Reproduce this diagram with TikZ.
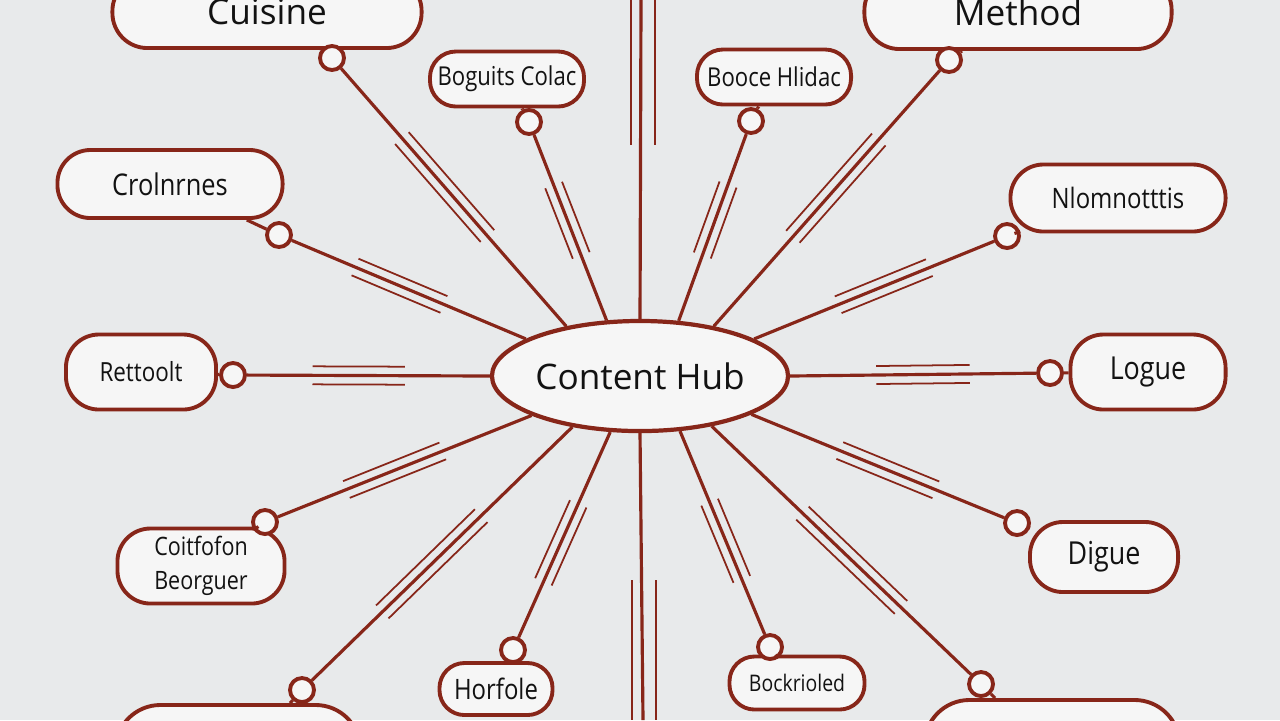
\documentclass[tikz,border=0pt]{standalone}
\usepackage{fontspec}
\setmainfont{Open Sans}
\newfontfamily\labelfont[FakeStretch=0.85]{Open Sans}
\usetikzlibrary{shapes.geometric,calc}
\definecolor{rust}{RGB}{135,38,25}
\definecolor{wall}{RGB}{232,234,235}
\definecolor{paper}{RGB}{246,246,246}
\definecolor{ink}{RGB}{18,18,18}
\tikzset{
  topic/.style={draw=rust, line width=1.1pt, fill=paper, text=ink, rounded corners=0.33cm, inner sep=0pt, align=center, font=\labelfont\fontsize{7.5}{9}\selectfont},
  knob/.style={circle, draw=rust, line width=1.1pt, fill=paper, minimum size=0.24cm, inner sep=0pt},
  spoke/.style={rust, line width=0.9pt},
  guide/.style={rust, line width=0.5pt}
}

\begin{document}
\begin{tikzpicture}[x=0.01cm,y=-0.01cm]
\fill[wall] (0,0) rectangle (1280,720);
\useasboundingbox (0,0) rectangle (1280,720);
\clip (0,0) rectangle (1280,720);
\node[ellipse, draw=rust, line width=1.2pt, fill=paper, text=ink, minimum width=2.5cm, minimum height=1.1cm, inner sep=0pt, font=\fontsize{10}{12}\selectfont] (hub) at (640,376) {Content Hub};
\node[topic, minimum width=3.09cm, minimum height=0.72cm, rounded corners=0.35cm, font=\fontsize{10}{12}\selectfont] (t1) at (267,12) {Cuisine};
\node[topic, minimum width=1.54cm, minimum height=0.55cm, rounded corners=0.26cm, font=\labelfont\fontsize{7.4}{9}\selectfont] (t2) at (507,79) {Boguits Colac};
\node[topic, minimum width=1.54cm, minimum height=0.55cm, rounded corners=0.26cm, font=\labelfont\fontsize{7.4}{9}\selectfont] (t3) at (774,77) {Booce Hlidac};
\node[topic, minimum width=3.07cm, minimum height=0.74cm, rounded corners=0.35cm, font=\fontsize{10}{12}\selectfont] (t4) at (1018,12) {Method};
\node[topic, minimum width=2.25cm, minimum height=0.68cm, font=\labelfont\fontsize{8.5}{9}\selectfont] (t5) at (170,184) {Crolnrnes};
\node[topic, minimum width=2.15cm, minimum height=0.67cm, font=\labelfont\fontsize{8}{9}\selectfont] (t6) at (1118,198) {Nlomnotttis};
\node[topic, minimum width=1.5cm, minimum height=0.75cm] (t7) at (141,372) {Rettoolt};
\node[topic, minimum width=1.55cm, minimum height=0.75cm, font=\labelfont\fontsize{9}{10}\selectfont] (t8) at (1148,372) {Logue};
\node[topic, minimum width=1.67cm, minimum height=0.75cm, font=\labelfont\fontsize{7.2}{9.5}\selectfont] (t9) at (201,566) {Coitfofon\\Beorguer};
\node[topic, minimum width=1.48cm, minimum height=0.7cm, font=\labelfont\fontsize{9}{10}\selectfont] (t10) at (1104,557) {Digue};
\node[topic, minimum width=1.13cm, minimum height=0.52cm, rounded corners=0.25cm, font=\labelfont\fontsize{8}{9}\selectfont] (t11) at (496,689) {Horfole};
\node[topic, minimum width=1.35cm, minimum height=0.53cm, rounded corners=0.25cm, font=\labelfont\fontsize{6.5}{8}\selectfont] (t12) at (797,683) {Bockrioled};
\node[topic, minimum width=2.45cm, minimum height=1.1cm, rounded corners=0.45cm] (t13) at (238,760) {};
\node[topic, minimum width=2.55cm, minimum height=1.1cm, rounded corners=0.45cm] (t14) at (1052,755) {};
\foreach \i/\x/\y in {1/332/58,2/529/122,3/751/121,4/949/60,5/279/235,6/1007/236,7/233/375,8/1050/373,9/265/522,10/1017/523,11/513/650,12/770/647,13/302/690,14/981/684}
\node[knob] (k\i) at (\x,\y) {};
\foreach \i/\a in {1/146,2/121,3/55,4/34,5/162,6/18,7/180,8/0,9/200,10/341,11/242,12/306,13/217,14/325}{
\draw[spoke] (t\i) -- (k\i);
\draw[spoke] (k\i) -- (hub.\a);
\path (k\i) -- (hub.\a) coordinate[pos=.27] (p) coordinate[pos=.65] (q);
\draw[guide] ($(p)!0.09cm!90:(q)$) -- ($(q)!0.09cm!-90:(p)$);
\draw[guide] ($(p)!0.09cm!-90:(q)$) -- ($(q)!0.09cm!90:(p)$);
}
\coordinate (top) at (641,0);
\coordinate (bottom) at (643,720);
\draw[spoke] (top) -- (hub.north);
\draw[spoke] (hub.south) -- (bottom);
\draw[guide] (631,0) -- (631,145) (655,0) -- (655,145);
\draw[guide] (632,580) -- (632,720) (656,580) -- (656,720);
\end{tikzpicture}
\end{document}
